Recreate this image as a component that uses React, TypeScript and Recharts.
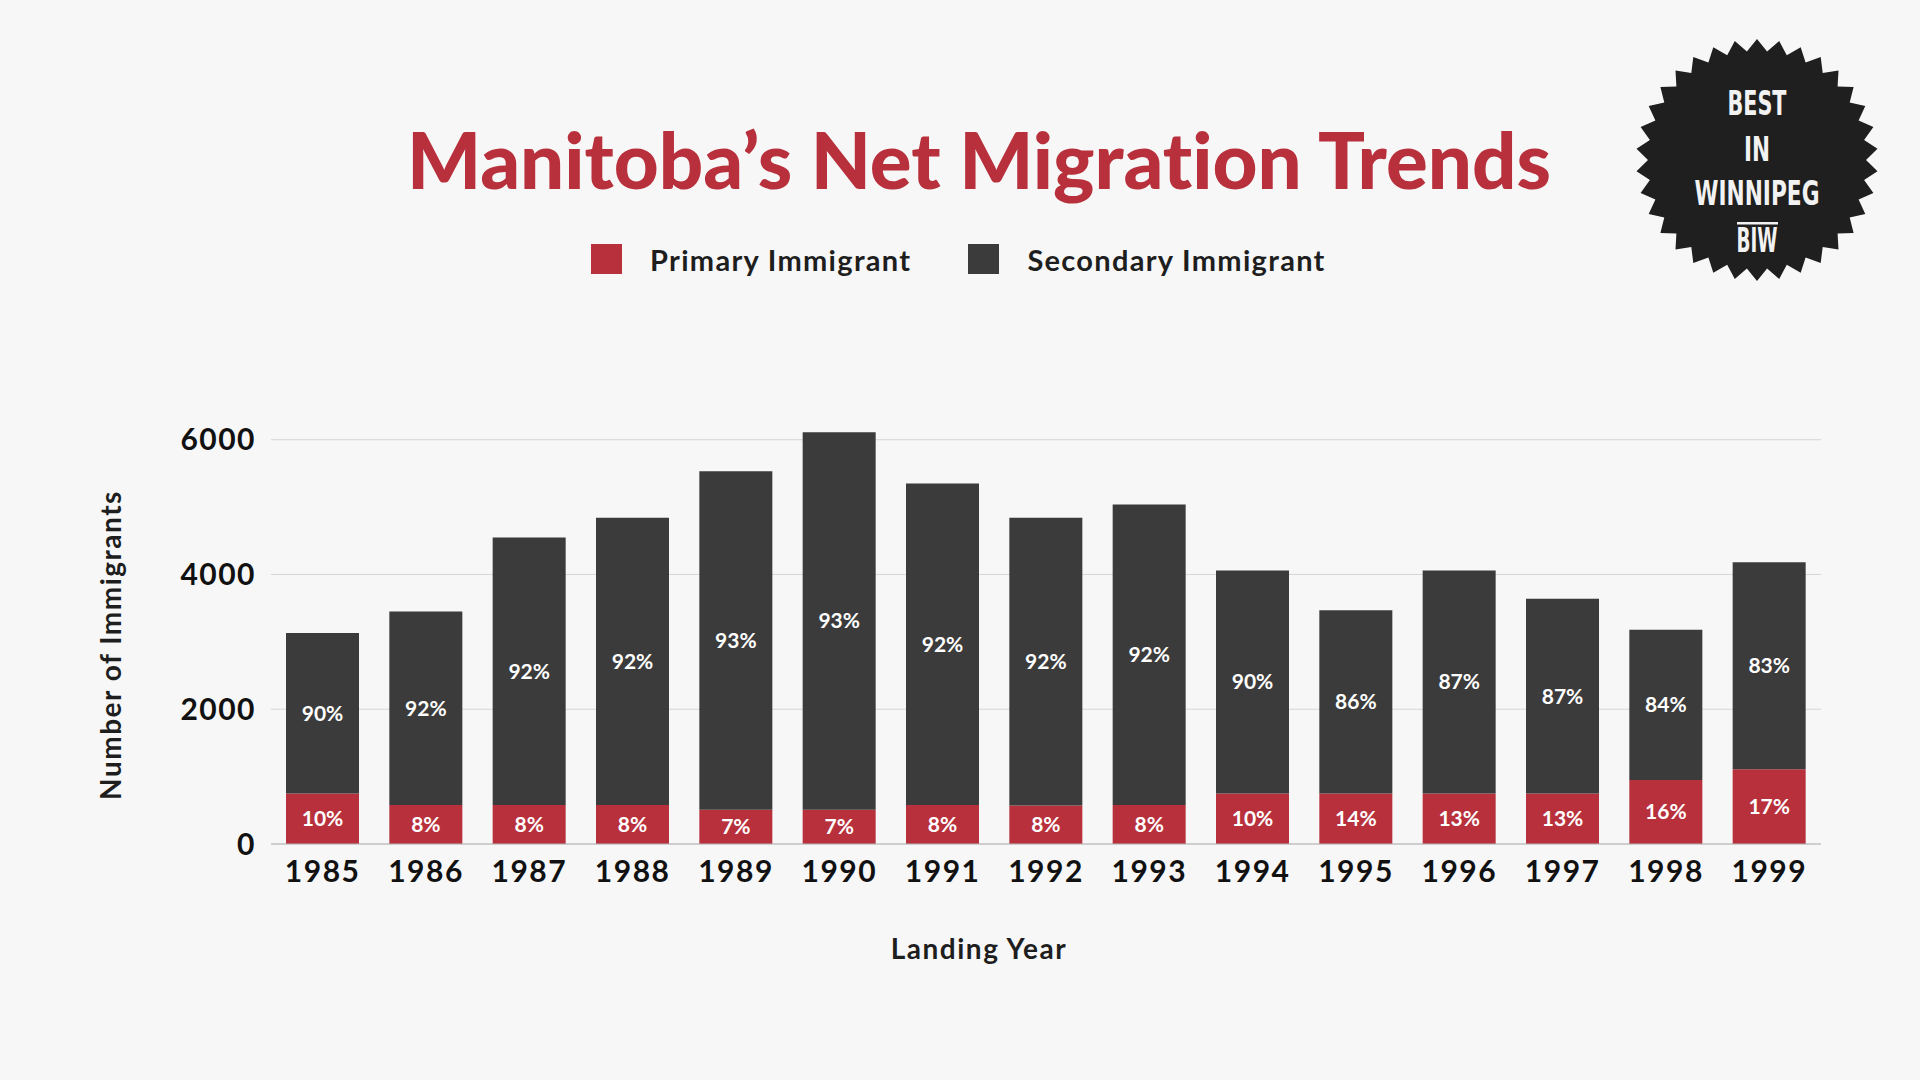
import React from 'react';
import { BarChart, Bar, XAxis, YAxis, CartesianGrid, LabelList } from 'recharts';

const years = ['1985', '1986', '1987', '1988', '1989', '1990', '1991', '1992', '1993', '1994', '1995', '1996', '1997', '1998', '1999'];
const primaryCounts = [750, 580, 580, 580, 510, 510, 580, 570, 580, 750, 750, 750, 750, 950, 1110];
const secondaryCounts = [2380, 2870, 3970, 4260, 5020, 5600, 4770, 4270, 4460, 3310, 2720, 3310, 2890, 2230, 3070];
const primaryPct = ['10%', '8%', '8%', '8%', '7%', '7%', '8%', '8%', '8%', '10%', '14%', '13%', '13%', '16%', '17%'];
const secondaryPct = ['90%', '92%', '92%', '92%', '93%', '93%', '92%', '92%', '92%', '90%', '86%', '87%', '87%', '84%', '83%'];
const yTicks = [0, 2000, 4000, 6000];
const seriesNames = ['Primary Immigrant', 'Secondary Immigrant'];

const RED = '#b8303c';
const DARK = '#3b3b3b';
const BG = '#f7f7f7';
const INK = '#1e1e1e';
const FONT = 'Lato, "Open Sans", sans-serif';

const data = years.map((year, i) => ({
  year,
  primary: primaryCounts[i],
  secondary: secondaryCounts[i],
  primaryLabel: primaryPct[i],
  secondaryLabel: secondaryPct[i]
}));

const noLiga = { fontVariantLigatures: 'none' as const };

const ChartLegend = () => (
  <div
    style={{
      position: 'absolute',
      left: 591,
      top: 244,
      height: 30,
      display: 'flex',
      alignItems: 'center',
      fontFamily: FONT,
      fontWeight: 700,
      fontSize: 29,
      letterSpacing: 1.3,
      color: INK,
      whiteSpace: 'nowrap',
      ...noLiga
    }}
  >
    <span style={{ width: 31, height: 30, background: RED, display: 'inline-block' }} />
    <span style={{ marginLeft: 28 }}>{seriesNames[0]}</span>
    <span style={{ width: 31, height: 30, background: DARK, display: 'inline-block', marginLeft: 57 }} />
    <span style={{ marginLeft: 28 }}>{seriesNames[1]}</span>
  </div>
);

// zig-zag seal outline for the badge
const sealPoints = (cx: number, cy: number, outer: number, inner: number, teeth: number) => {
  const pts: string[] = [];
  for (let i = 0; i < teeth * 2; i++) {
    const r = i % 2 === 0 ? outer : inner;
    const a = (Math.PI * i) / teeth - Math.PI / 2;
    pts.push(`${(cx + r * Math.cos(a)).toFixed(1)},${(cy + r * Math.sin(a)).toFixed(1)}`);
  }
  return pts.join(' ');
};

const Badge = () => (
  <svg width={260} height={260} style={{ position: 'absolute', left: 1627, top: 30 }}>
    <polygon points={sealPoints(130, 130, 121, 109, 34)} fill="#1f1f1f" />
    <g fill="#f2f2f2" fontFamily='"DejaVu Sans Condensed", "Liberation Sans Narrow", sans-serif' fontWeight={700} textAnchor="middle">
      <text x={130} y={85} fontSize={34} textLength={59} lengthAdjust="spacingAndGlyphs">BEST</text>
      <text x={130} y={131} fontSize={34} textLength={26} lengthAdjust="spacingAndGlyphs">IN</text>
      <text x={130} y={175} fontSize={34} textLength={125} lengthAdjust="spacingAndGlyphs">WINNIPEG</text>
      <text x={130} y={222} fontSize={34} textLength={41} lengthAdjust="spacingAndGlyphs">BIW</text>
    </g>
    <rect x={110} y={192} width={41} height={2.5} fill="#f2f2f2" />
  </svg>
);

export default function App() {
  return (
    <div style={{ position: 'fixed', left: 0, top: 0, width: 1920, height: 1080, background: BG, overflow: 'hidden', fontFamily: FONT }}>
      <BarChart
        width={1920}
        height={1080}
        data={data}
        margin={{ top: 406, right: 99, left: 171, bottom: 176 }}
        barSize={73}
      >
        <CartesianGrid vertical={false} stroke="#d6d6d6" horizontalValues={yTicks} />
        <XAxis
          dataKey="year"
          height={60}
          tickLine={false}
          axisLine={{ stroke: '#b5b5b5' }}
          tickMargin={11}
          tick={{ fill: '#111', fontSize: 30, fontWeight: 700, fontFamily: FONT, letterSpacing: 1.5 }}
        />
        <YAxis
          width={100}
          domain={[0, 6500]}
          ticks={yTicks}
          tickLine={false}
          axisLine={false}
          tickMargin={9}
          tick={{ fill: '#111', fontSize: 30, fontWeight: 700, fontFamily: FONT, letterSpacing: 1.5 }}
        />
        <Bar dataKey="primary" name={seriesNames[0]} stackId="a" fill={RED} isAnimationActive={false}>
          <LabelList dataKey="primaryLabel" position="center" fill="#fff" fontSize={21} fontWeight={700} fontFamily={FONT} />
        </Bar>
        <Bar dataKey="secondary" name={seriesNames[1]} stackId="a" fill={DARK} isAnimationActive={false}>
          <LabelList dataKey="secondaryLabel" position="center" fill="#fff" fontSize={21} fontWeight={700} fontFamily={FONT} />
        </Bar>
      </BarChart>

      <ChartLegend />

      <svg width={1920} height={1080} style={{ position: 'absolute', left: 0, top: 0, pointerEvents: 'none' }}>
        <text x={979} y={189} textAnchor="middle" fill={RED} fontSize={78} fontWeight={900} fontFamily={FONT} style={noLiga}>
          Manitoba’s Net Migration Trends
        </text>
        <text
          x={0}
          y={0}
          transform="translate(121 645) rotate(-90)"
          textAnchor="middle"
          fill={INK}
          fontSize={28}
          fontWeight={700}
          fontFamily={FONT}
          letterSpacing={1.5}
        >
          Number of Immigrants
        </text>
        <text x={979} y={959} textAnchor="middle" fill={INK} fontSize={28} fontWeight={700} fontFamily={FONT} letterSpacing={1.5}>
          Landing Year
        </text>
      </svg>

      <Badge />
    </div>
  );
}
